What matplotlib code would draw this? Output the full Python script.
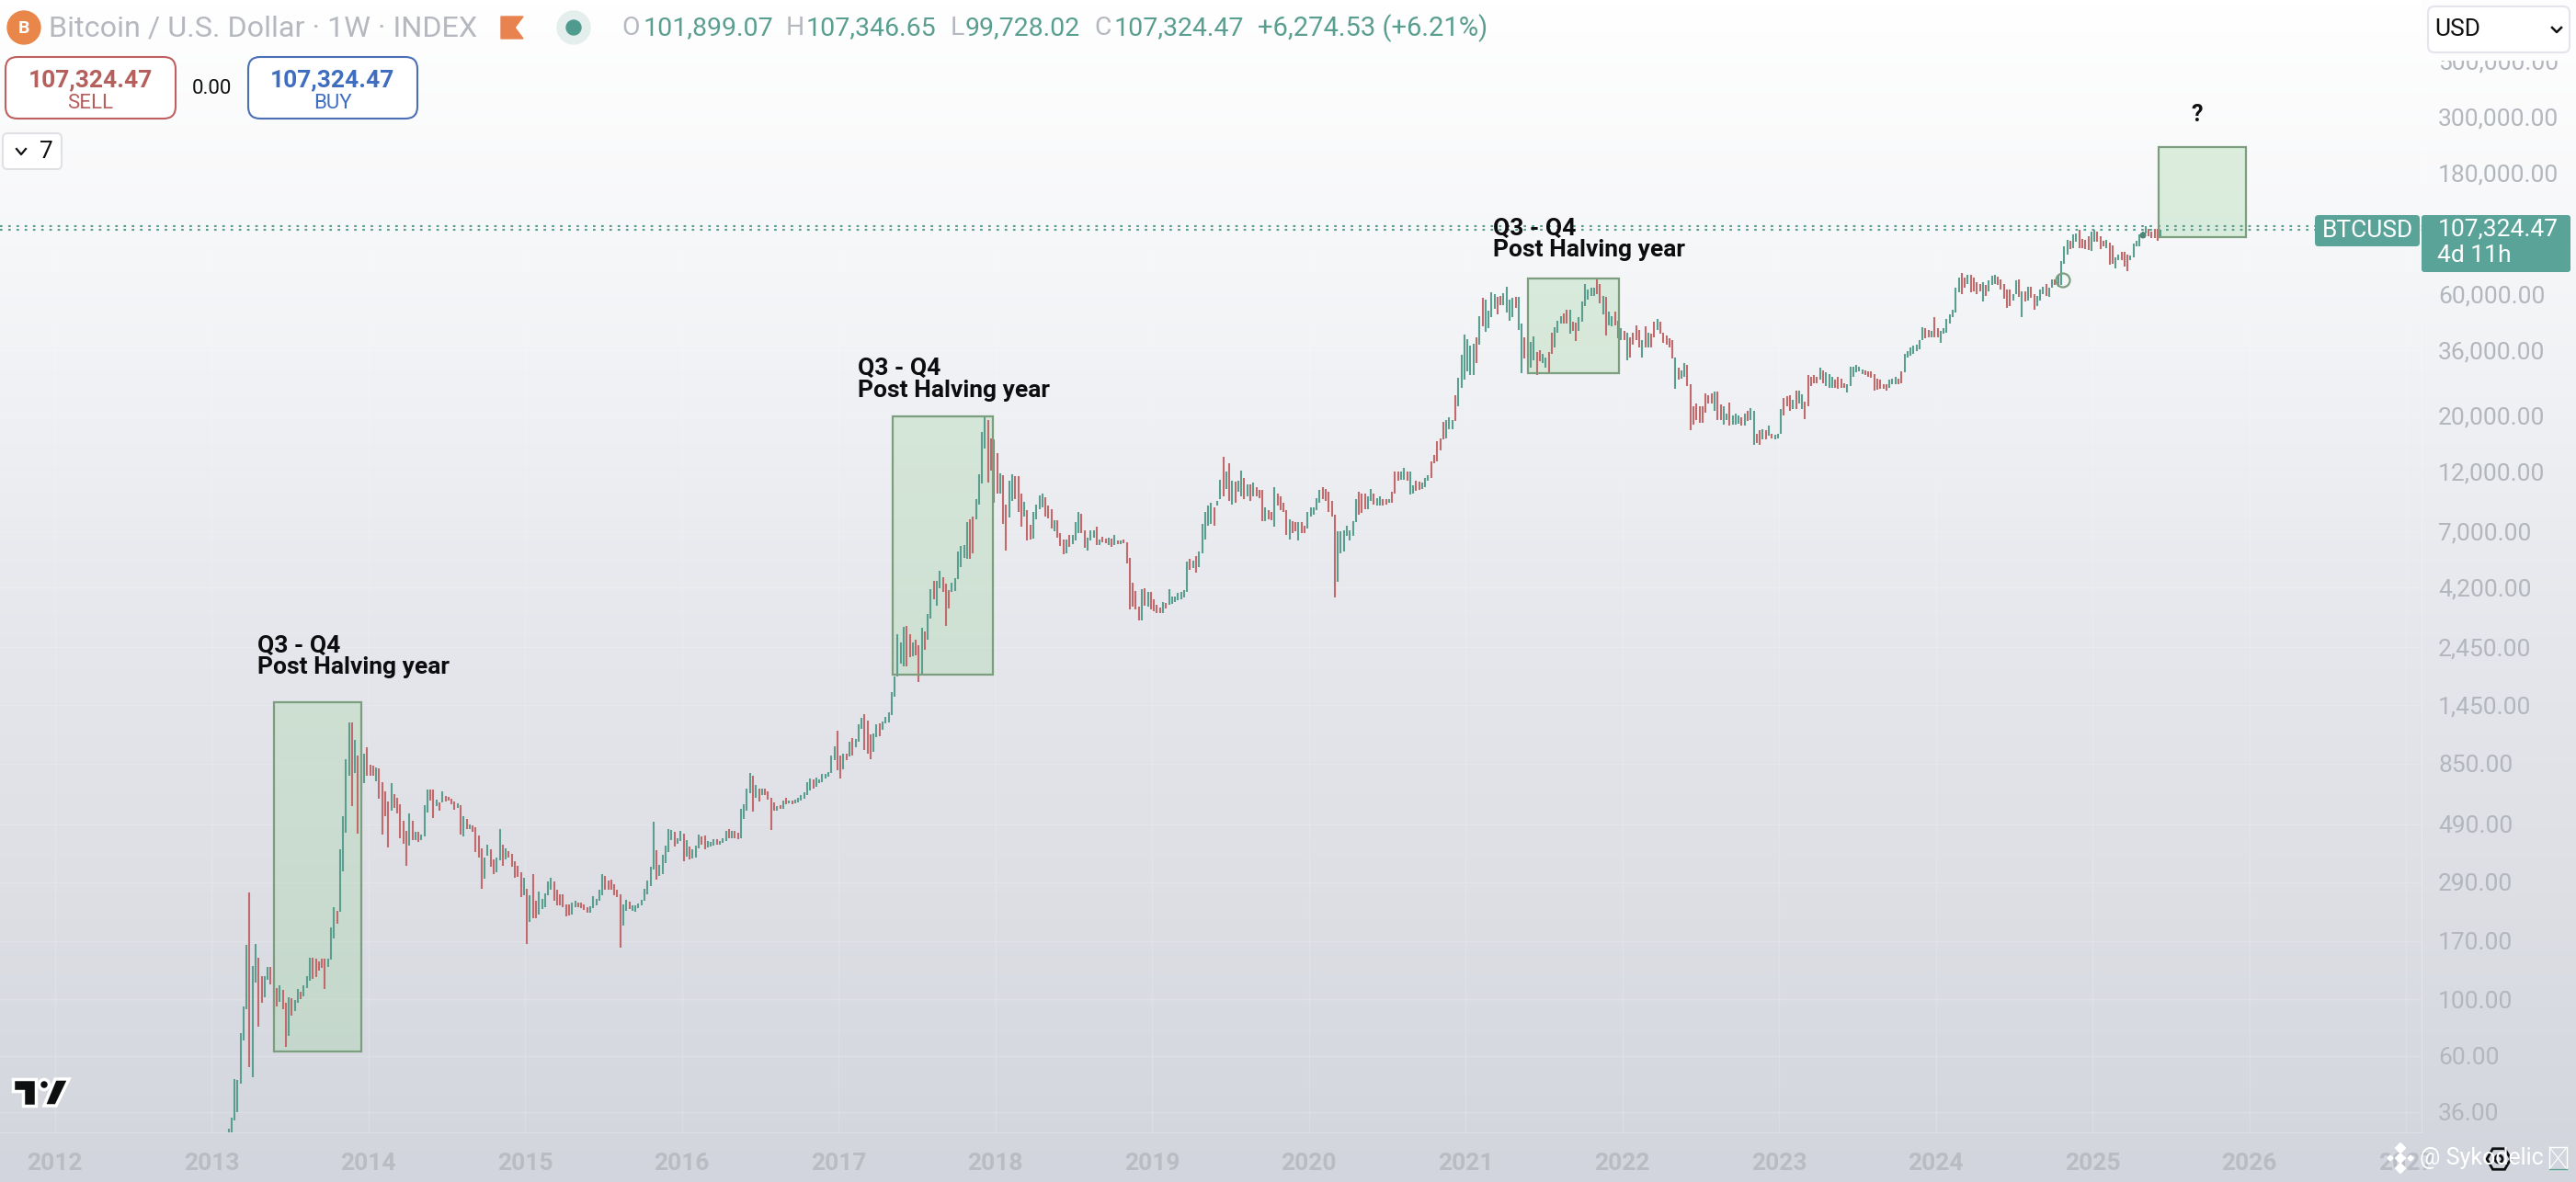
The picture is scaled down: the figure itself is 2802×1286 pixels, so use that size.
#!/usr/bin/env python3
"""
Bitcoin weekly chart with the post halving boxes.
Bars are read off the picture, in log10(USD) because the price axis is log.
"""

import numpy as np
import matplotlib
matplotlib.use("Agg")
from matplotlib import pyplot as plt
from matplotlib.patches import Rectangle, FancyBboxPatch, Circle, Polygon, RegularPolygon
from matplotlib.colors import LinearSegmentedColormap

# Weekly high, low (log10 USD) and direction, G = up, R = down
high_2013 = [
    1.490, 1.536, 1.686, 1.683, 1.869, 1.974, 2.215, 2.422, 2.131, 2.218,
    2.166, 2.092, 2.092, 2.127, 2.127, 2.082, 2.044, 2.054, 2.036, 1.988,
    2.010, 2.006, 1.999, 2.041, 2.031, 2.054, 2.092, 2.166, 2.166, 2.159,
    2.149, 2.159, 2.162, 2.162, 2.285, 2.362, 2.348, 2.590, 2.723, 2.947,
    3.090, 3.090, 3.024, 2.960, 3.020, 2.968, 2.992, 2.925, 2.922, 2.915,
    2.912, 2.856, 2.820, 2.779, 2.852, 2.810, 2.796, 2.768, 2.705, 2.663,
    2.733, 2.705, 2.660, 2.660, 2.649, 2.764, 2.828, 2.828, 2.827, 2.786,
    2.775, 2.820, 2.803, 2.797, 2.792, 2.781, 2.771, 2.765, 2.723, 2.712,
    2.691, 2.684, 2.680, 2.646, 2.596, 2.558, 2.611, 2.593, 2.551, 2.558,
    2.670, 2.611, 2.596, 2.586, 2.572, 2.544, 2.526, 2.502, 2.478, 2.435,
    2.411, 2.495, 2.390, 2.425, 2.397, 2.418, 2.464, 2.478, 2.464, 2.432,
    2.415, 2.415, 2.373, 2.376, 2.380, 2.390, 2.383, 2.380, 2.376, 2.362,
    2.366, 2.408, 2.397, 2.432, 2.495, 2.488, 2.467, 2.471, 2.453, 2.432, 2.415,
]
low_2013 = [
    1.476, 1.476, 1.522, 1.557, 1.669, 1.840, 1.963, 1.732, 1.694, 2.068,
    1.893, 1.988, 2.008, 2.078, 2.058, 1.942, 1.974, 1.991, 1.960, 1.812,
    1.857, 1.936, 1.953, 1.988, 2.003, 2.013, 2.044, 2.075, 2.082, 2.089,
    2.114, 2.124, 2.041, 2.128, 2.156, 2.240, 2.299, 2.344, 2.506, 2.656,
    2.880, 2.761, 2.891, 2.653, 2.796, 2.852, 2.880, 2.880, 2.880, 2.859,
    2.789, 2.649, 2.723, 2.600, 2.744, 2.754, 2.733, 2.635, 2.614, 2.527,
    2.607, 2.628, 2.628, 2.621, 2.628, 2.642, 2.736, 2.782, 2.715, 2.761,
    2.744, 2.775, 2.779, 2.782, 2.768, 2.747, 2.754, 2.649, 2.642, 2.670,
    2.670, 2.660, 2.579, 2.558, 2.436, 2.474, 2.565, 2.523, 2.495, 2.502,
    2.548, 2.526, 2.551, 2.558, 2.523, 2.478, 2.484, 2.404, 2.411, 2.219,
    2.306, 2.320, 2.320, 2.334, 2.355, 2.362, 2.411, 2.432, 2.390, 2.369,
    2.369, 2.362, 2.327, 2.330, 2.334, 2.362, 2.362, 2.359, 2.351, 2.341,
    2.341, 2.359, 2.369, 2.390, 2.411, 2.432, 2.432, 2.432, 2.411, 2.404, 2.204,
]
dirs_2013 = ("GGGGGGGRGG RRGGRRRGRR GRGGRGGGRR RRRGGGRGGG GRGRGGRRRG RRRRGRRRRR "
             "GRGRGGGRRG RGRRRRGRGR GRRRRGGRRG GRGRRRRRGR GRRGGGGGRR RRRRGGRRRR GGGGGRRRRRR")

high_2015 = [
    2.374, 2.391, 2.386, 2.371, 2.371, 2.377, 2.392, 2.437, 2.467, 2.522,
    2.700, 2.588, 2.531, 2.570, 2.606, 2.672, 2.669, 2.660, 2.636, 2.664,
    2.654, 2.628, 2.604, 2.592, 2.606, 2.648, 2.642, 2.645, 2.624, 2.621,
    2.630, 2.633, 2.624, 2.634, 2.664, 2.670, 2.664, 2.664, 2.657, 2.751,
    2.769, 2.832, 2.892, 2.881, 2.845, 2.829, 2.829, 2.829, 2.820, 2.793,
    2.775, 2.763, 2.767, 2.785, 2.793, 2.785, 2.782, 2.787, 2.793, 2.805,
    2.817, 2.857, 2.872, 2.866, 2.875, 2.868, 2.890, 2.890, 2.896, 2.962,
    2.998, 3.059, 2.962, 2.968, 2.968, 3.016, 3.029, 3.026, 3.083, 3.109,
    3.125, 3.099, 3.043, 3.047, 3.083, 3.086, 3.095, 3.113,
]
low_2015 = [
    2.290, 2.350, 2.355, 2.350, 2.347, 2.359, 2.371, 2.389, 2.415, 2.447,
    2.513, 2.473, 2.485, 2.495, 2.536, 2.582, 2.628, 2.604, 2.612, 2.624,
    2.546, 2.564, 2.552, 2.555, 2.560, 2.594, 2.608, 2.590, 2.598, 2.604,
    2.606, 2.608, 2.608, 2.616, 2.624, 2.636, 2.636, 2.636, 2.633, 2.636,
    2.712, 2.745, 2.814, 2.741, 2.793, 2.781, 2.805, 2.805, 2.787, 2.669,
    2.745, 2.745, 2.751, 2.751, 2.769, 2.773, 2.769, 2.773, 2.777, 2.785,
    2.789, 2.805, 2.823, 2.829, 2.838, 2.853, 2.857, 2.872, 2.878, 2.893,
    2.944, 2.902, 2.872, 2.908, 2.944, 2.956, 2.962, 2.992, 3.016, 3.065,
    2.983, 2.968, 2.946, 2.974, 3.035, 3.038, 3.062, 3.089,
]
dirs_2015 = ("GGRGGGGGGG GRGGGGGRGG RGRGGGRRGG GRGGGRGRRG GGGRGRGRRR "
             "RGRGRGRGGG GGGRGGGGGG GRRGRGRGGG RRRGGRGG")

high_2017 = [
    3.131, 3.209, 3.272, 3.439, 3.408, 3.469, 3.472, 3.439, 3.408, 3.417,
    3.396, 3.463, 3.448, 3.517, 3.617, 3.647, 3.647, 3.690, 3.665, 3.638,
    3.613, 3.641, 3.658, 3.764, 3.788, 3.791, 3.879, 3.891, 3.903, 3.970,
    4.069, 4.235, 4.295, 4.281, 4.211, 4.205, 4.151, 4.072, 4.066, 3.951,
    4.042, 4.069, 4.060, 4.060, 3.994, 3.960, 3.927, 3.871, 3.921, 3.951,
    3.984, 3.991, 3.979, 3.945, 3.931, 3.888, 3.888, 3.837, 3.813, 3.813,
    3.831, 3.831, 3.879, 3.921, 3.912, 3.849, 3.819, 3.849, 3.849, 3.863,
    3.813, 3.822, 3.815, 3.819, 3.815, 3.831, 3.807, 3.807, 3.810, 3.801,
    3.740, 3.641, 3.608, 3.549, 3.617, 3.620, 3.607, 3.607, 3.577, 3.553,
    3.545, 3.565, 3.561, 3.617, 3.586, 3.589, 3.601, 3.605, 3.613, 3.726,
    3.734, 3.728, 3.746, 3.764, 3.875, 3.921, 3.945, 3.955, 3.939, 3.963,
    4.048, 4.136, 4.078, 4.114, 4.042, 4.040, 4.042, 4.084, 4.056, 4.030,
    4.030, 4.036, 4.018, 4.008, 4.006, 3.939, 3.927, 3.921, 4.018, 3.994,
    3.982, 3.957, 3.927, 3.891, 3.885, 3.879, 3.879, 3.879, 3.867, 3.921,
    3.939, 3.939, 3.976, 4.008, 4.018, 4.012, 4.000, 3.963, 3.909, 3.843,
    3.843, 3.849, 3.867, 3.849, 3.885, 3.972, 4.000, 3.994, 3.994, 3.982,
    4.012, 3.994, 3.976, 3.982, 3.970, 3.970, 3.970, 4.000, 4.078, 4.078,
    4.081, 4.093, 4.081, 4.078, 4.024, 4.042, 4.040, 4.036, 4.054, 4.066,
    4.120, 4.144, 4.199, 4.211, 4.274, 4.283, 4.295, 4.283, 4.380, 4.450,
    4.539,
]
low_2017 = [
    3.090, 3.119, 3.191, 3.272, 3.324, 3.312, 3.312, 3.348, 3.351, 3.354,
    3.251, 3.275, 3.376, 3.417, 3.499, 3.577, 3.550, 3.620, 3.607, 3.472,
    3.541, 3.607, 3.610, 3.656, 3.702, 3.740, 3.734, 3.734, 3.758, 3.891,
    3.951, 4.032, 4.169, 4.036, 4.084, 3.957, 3.994, 3.994, 3.873, 3.770,
    3.897, 3.963, 3.970, 3.921, 3.861, 3.903, 3.807, 3.813, 3.815, 3.891,
    3.933, 3.939, 3.903, 3.895, 3.855, 3.846, 3.819, 3.786, 3.755, 3.758,
    3.783, 3.795, 3.807, 3.837, 3.837, 3.779, 3.767, 3.807, 3.819, 3.789,
    3.789, 3.801, 3.798, 3.789, 3.783, 3.789, 3.795, 3.795, 3.798, 3.716,
    3.535, 3.547, 3.535, 3.493, 3.493, 3.550, 3.547, 3.535, 3.529, 3.523,
    3.521, 3.521, 3.541, 3.553, 3.557, 3.565, 3.571, 3.577, 3.583, 3.607,
    3.692, 3.698, 3.680, 3.704, 3.758, 3.813, 3.867, 3.873, 3.867, 3.945,
    3.970, 3.982, 4.012, 3.963, 3.951, 3.957, 4.000, 3.982, 3.970, 3.982,
    3.963, 3.982, 3.982, 3.976, 3.885, 3.885, 3.891, 3.887, 3.861, 3.945,
    3.927, 3.921, 3.831, 3.813, 3.837, 3.843, 3.807, 3.837, 3.837, 3.855,
    3.903, 3.909, 3.927, 3.957, 3.970, 3.963, 3.921, 3.903, 3.583, 3.644,
    3.758, 3.764, 3.825, 3.807, 3.825, 3.879, 3.909, 3.915, 3.933, 3.933,
    3.963, 3.951, 3.945, 3.945, 3.945, 3.951, 3.957, 3.957, 3.994, 4.042,
    4.048, 4.048, 4.042, 3.988, 3.994, 4.003, 4.006, 4.012, 4.018, 4.042,
    4.054, 4.114, 4.120, 4.163, 4.205, 4.211, 4.247, 4.245, 4.277, 4.338,
    4.410,
]
dirs_2017 = ("GGGGGGRRGR RGRGGRGGRR RGGGGGGRRG GGGRRRRGRR GGRRRGRRGG "
             "GGRRRGRRRG RGGGRRGGGR GRRGRGRGRR RRRRGRGRRR RGRGGGGGGG "
             "RGRGGGGGRG GRGRGRGGRG RGRRRGRRGR RRRGRRGRRG GGGGRRRRRG "
             "GGGGGGRRRG GRGGRRGRRR GGRGGRRGGG RRRRRGGGRG GGGGGRGRGG G")

high_2021 = [
    4.619, 4.600, 4.575, 4.583, 4.607, 4.690, 4.764, 4.756, 4.715, 4.784,
    4.778, 4.766, 4.772, 4.781, 4.806, 4.756, 4.764, 4.769, 4.769, 4.664,
    4.607, 4.591, 4.591, 4.612, 4.549, 4.559, 4.543, 4.530, 4.549, 4.625,
    4.648, 4.675, 4.691, 4.703, 4.718, 4.718, 4.669, 4.667, 4.687, 4.748,
    4.820, 4.796, 4.802, 4.802, 4.838, 4.817, 4.772, 4.766, 4.711, 4.693,
    4.709, 4.675, 4.645, 4.633, 4.627, 4.609, 4.627, 4.657, 4.639, 4.597,
    4.651, 4.627, 4.621, 4.669, 4.679, 4.669, 4.627, 4.615, 4.603, 4.597,
    4.530, 4.488, 4.479, 4.506, 4.500, 4.422, 4.337, 4.349, 4.337, 4.337,
    4.386, 4.380, 4.386, 4.395, 4.395, 4.343, 4.337, 4.307, 4.353, 4.301,
    4.307, 4.301, 4.295, 4.307, 4.319, 4.329, 4.319, 4.229, 4.241, 4.247,
    4.241, 4.259, 4.229, 4.225, 4.229, 4.325, 4.368, 4.377, 4.380, 4.361,
    4.398, 4.398, 4.382, 4.355, 4.458, 4.454, 4.458, 4.452, 4.488, 4.479,
    4.470, 4.464, 4.452, 4.442, 4.452, 4.446, 4.428, 4.422, 4.494, 4.491,
    4.498, 4.494, 4.482, 4.479, 4.476, 4.476, 4.464, 4.446, 4.442, 4.422,
    4.422, 4.440, 4.446, 4.452, 4.446, 4.476, 4.543, 4.555, 4.570, 4.575,
    4.579, 4.597, 4.648, 4.643, 4.639, 4.635, 4.687, 4.645, 4.633, 4.645,
    4.681, 4.699, 4.718, 4.802, 4.844, 4.862, 4.844, 4.853, 4.856, 4.844,
    4.824, 4.820, 4.824, 4.814, 4.832, 4.850, 4.853, 4.848, 4.838, 4.820,
    4.798, 4.796, 4.778, 4.832, 4.838, 4.790, 4.790, 4.808, 4.808, 4.778,
    4.772, 4.796, 4.808, 4.817, 4.802, 4.838,
]
low_2021 = [
    4.440, 4.476, 4.458, 4.458, 4.507, 4.579, 4.651, 4.631, 4.645, 4.688,
    4.720, 4.700, 4.736, 4.736, 4.706, 4.672, 4.688, 4.724, 4.639, 4.467,
    4.525, 4.507, 4.489, 4.519, 4.458, 4.513, 4.507, 4.488, 4.470, 4.543,
    4.567, 4.627, 4.663, 4.663, 4.663, 4.623, 4.633, 4.594, 4.633, 4.669,
    4.730, 4.756, 4.772, 4.772, 4.778, 4.742, 4.699, 4.615, 4.657, 4.651,
    4.657, 4.603, 4.597, 4.597, 4.518, 4.530, 4.579, 4.597, 4.567, 4.530,
    4.567, 4.567, 4.567, 4.609, 4.639, 4.621, 4.585, 4.579, 4.567, 4.524,
    4.404, 4.440, 4.446, 4.452, 4.416, 4.244, 4.265, 4.283, 4.271, 4.271,
    4.313, 4.349, 4.349, 4.319, 4.283, 4.283, 4.265, 4.281, 4.259, 4.265,
    4.265, 4.269, 4.259, 4.259, 4.277, 4.283, 4.186, 4.193, 4.186, 4.208,
    4.205, 4.220, 4.211, 4.208, 4.211, 4.229, 4.301, 4.337, 4.319, 4.325,
    4.325, 4.349, 4.325, 4.285, 4.337, 4.416, 4.428, 4.428, 4.440, 4.428,
    4.416, 4.410, 4.410, 4.410, 4.404, 4.410, 4.410, 4.392, 4.416, 4.452,
    4.470, 4.476, 4.464, 4.458, 4.452, 4.450, 4.398, 4.401, 4.404, 4.404,
    4.398, 4.410, 4.422, 4.422, 4.422, 4.428, 4.470, 4.530, 4.536, 4.543,
    4.555, 4.561, 4.597, 4.603, 4.609, 4.607, 4.609, 4.609, 4.585, 4.621,
    4.627, 4.663, 4.687, 4.705, 4.784, 4.780, 4.802, 4.820, 4.784, 4.790,
    4.778, 4.790, 4.751, 4.772, 4.790, 4.814, 4.820, 4.814, 4.796, 4.760,
    4.724, 4.730, 4.754, 4.778, 4.766, 4.687, 4.748, 4.754, 4.763, 4.718,
    4.730, 4.754, 4.778, 4.772, 4.766, 4.802,
]
dirs_2021 = ("GRRGGGGRGG RRGGRRGGRR GGGRRGRRGG GGGGRRGRGG RRGRGRRRRG "
             "RGRRGRRRRR GRGGRRRRRR RRRGRRGGRG GGRGRGGRRG RGRGGGRRRG "
             "RGGRRRRRGR GGGRRRRGGG GGGRRRRRRR RGGGRRGGGG GGGRRGRRGG "
             "GGGGGRRGRR RRGRGGGRRR RRGGRGRGRR GGGRGG")

high_2024 = [
    4.838, 4.853, 4.907, 4.965, 4.993, 4.989, 5.013, 5.016, 5.031, 4.995,
    4.993, 5.005, 5.025, 5.031, 5.025, 5.007, 4.989, 4.993, 4.980, 4.971,
    4.925, 4.935, 4.945, 4.945, 4.935, 4.932, 4.977, 4.989, 5.013, 5.023,
    5.046, 5.037, 5.023, 5.034, 5.034, 5.031,
]
low_2024 = [
    4.814, 4.808, 4.814, 4.899, 4.935, 4.957, 4.959, 4.983, 4.959, 4.961,
    4.957, 4.953, 4.949, 4.983, 4.983, 4.957, 4.965, 4.959, 4.893, 4.899,
    4.881, 4.911, 4.911, 4.887, 4.868, 4.911, 4.923, 4.965, 4.965, 5.001,
    5.019, 5.007, 5.001, 5.001, 4.989, 4.998,
]
dirs_2024 = "RGGGGRGGRR RRGGRRRGRR GGRRRGGGGG GRRRRG"

# First weekly bar, as a fraction of a year
first_week = 2013.1085

# Axis ticks
year_ticks = list(range(2012, 2028))
price_ticks = [36, 60, 100, 170, 290, 490, 850, 1450, 2450, 4200, 7000, 12000,
               20000, 36000, 60000, 180000, 300000, 500000]
last_price = 107324.47
upper_line = 111200

# Boxes: start year, end year, low price, high price
box_starts = [2013.397, 2017.348, 2021.396, 2025.420]
box_ends = [2013.958, 2017.988, 2021.977, 2025.981]
box_lows = [62.4, 1901, 29300, 100460]
box_highs = [1483, 19860, 69340, 228500]
note_years = [2013.295, 2017.123, 2021.175]
note_prices = [2239, 27660, 98700]

GREEN = "#5a9e90"
TAG = "#5aa398"
RED = "#c1696b"
GREY = "#b3b6bd"
BOX_EDGE = "#7b9e7f"
FONT = "Roboto"

plt.rcParams["font.family"] = [FONT, "DejaVu Sans"]

highs = np.array(high_2013 + high_2015 + high_2017 + high_2021 + high_2024)
lows = np.array(low_2013 + low_2015 + low_2017 + low_2021 + low_2024)
dirs = (dirs_2013 + dirs_2015 + dirs_2017 + dirs_2021 + dirs_2024).replace(" ", "")

weeks = first_week + np.arange(len(highs)) / 52.0
colors = [GREEN if d == "G" else RED for d in dirs]

W, H = 2802, 1286
fig = plt.figure(figsize=(W / 100, H / 100), dpi=100)

# Page gradient behind everything
bg = fig.add_axes([0, 0, 1, 1], zorder=0)
bg.axis("off")
cmap = LinearSegmentedColormap.from_list("page", [
    (0.0, "#ffffff"), (0.23, "#f5f6f8"), (0.54, "#e6e7ec"), (0.78, "#dcdee4"), (1.0, "#d2d5dd")])
bg.imshow(np.linspace(0, 1, 256).reshape(-1, 1), cmap=cmap, aspect="auto", extent=[0, 1, 0, 1])

# Price chart, 170.5 px a year and 276.2 px a decade
PLOT_W, PLOT_H = 2634, 1232
ax = fig.add_axes([0, (H - PLOT_H) / H, PLOT_W / W, PLOT_H / H], zorder=1)
ax.patch.set_visible(False)
ax.set_yscale("log")
ax.set_xlim(2011.651, 2011.651 + PLOT_W / 170.5)
ax.set_ylim(10 ** (5.937 - PLOT_H / 276.2), 10 ** 5.937)

ax.vlines(weeks, 10 ** lows, 10 ** highs, colors=colors, lw=1.5, zorder=3, capstyle="butt")

for x0, x1, y0, y1 in zip(box_starts, box_ends, box_lows, box_highs):
    ax.add_patch(Rectangle((x0, y0), x1 - x0, y1 - y0, facecolor="#a5d6a7", alpha=0.35, edgecolor="none", zorder=2))
    ax.add_patch(Rectangle((x0, y0), x1 - x0, y1 - y0, fill=False, edgecolor=BOX_EDGE, lw=1.6, zorder=4))

for x, y in zip(note_years, note_prices):
    ax.text(x, y, "Q3 - Q4\nPost Halving year", fontsize=19, fontweight="bold", color="#0d0d0f",
            va="center", ha="left", linespacing=0.96, zorder=5)
ax.text(2025.669, 305000, "?", fontsize=18, fontweight="bold", color="#111111", ha="center", va="center", zorder=5)

for price in [upper_line, last_price]:
    ax.axhline(price, color=GREEN, lw=1.5, dashes=(1.3, 3.0), zorder=2)

ax.yaxis.tick_right()
ax.set_yticks(price_ticks)
ax.set_yticklabels([f"{p:,.2f}" for p in price_ticks])
ax.minorticks_off()
ax.set_xticks(year_ticks)
ax.set_xticklabels([str(y) for y in year_ticks])
ax.tick_params(axis="y", length=0, pad=13, labelsize=19, labelcolor=GREY)
ax.tick_params(axis="x", length=0, pad=16, labelsize=19, labelcolor="#b9bcc3")
for lab in ax.get_xticklabels():
    lab.set_fontweight("bold")
ax.grid(True, color="#ffffff", alpha=0.16, lw=1)
for side in ["top", "left"]:
    ax.spines[side].set_visible(False)
for side in ["right", "bottom"]:
    ax.spines[side].set_color("#ffffff")
    ax.spines[side].set_alpha(0.25)

# Everything from here is the page around the chart, placed in pixels
ui = fig.add_axes([0, 0, 1, 1], zorder=2)
ui.set_xlim(0, W)
ui.set_ylim(H, 0)
ui.axis("off")

ui.add_patch(Circle((26, 30), 18, color="#e9874a"))
ui.text(26, 31, "B", color="white", fontsize=14, fontweight="bold", ha="center", va="center")
ui.text(53, 31, "Bitcoin / U.S. Dollar · 1W · INDEX", color="#b5b8bf", fontsize=23.3, va="center")
ui.add_patch(Polygon([(545, 18), (569, 18), (560, 30), (569, 42), (545, 42)], color="#e8824f"))
ui.add_patch(Circle((624, 30), 18, color="#e4eeed"))
ui.add_patch(Circle((624, 30), 8, color="#4f9c8f"))

header = [(676, "O", 700, "101,899.07"), (855, "H", 877, "107,346.65"),
          (1034, "L", 1050, "99,728.02"), (1190, "C", 1212, "107,324.47")]
for x0, key, x1, val in header:
    ui.text(x0, 31, key, color="#b5b8bf", fontsize=20.5, va="center")
    ui.text(x1, 31, val, color=GREEN, fontsize=20.5, va="center")
ui.text(1368, 31, "+6,274.53 (+6.21%)", color=GREEN, fontsize=21, va="center")

# Sell / buy buttons
for x0, x1, edge, txt, name in [(6, 191, "#bf5f5f", "#b5605c", "SELL"), (270, 454, "#4a6fb5", "#3f6ec0", "BUY")]:
    ui.add_patch(FancyBboxPatch((x0, 62), x1 - x0, 67, boxstyle="round,pad=0,rounding_size=13",
                                facecolor="white", edgecolor=edge, lw=1.5))
    ui.text((x0 + x1) / 2, 87, "107,324.47", color=txt, fontsize=19, fontweight="bold", ha="center", va="center")
    ui.text((x0 + x1) / 2, 113, name, color=txt, fontsize=16, ha="center", va="center")
ui.text(230, 96, "0.00", color="#111111", fontsize=16, ha="center", va="center")

ui.add_patch(FancyBboxPatch((3, 145), 64, 39, boxstyle="round,pad=0,rounding_size=5",
                            facecolor="white", edgecolor="#e0e1e5", lw=1.5))
ui.plot([18, 23, 28], [162, 168, 162], color="#111111", lw=1.6)
ui.text(50, 165, "7", color="#111111", fontsize=19, ha="center", va="center")

# Fade that cuts the top price label, then the currency box
ui.add_patch(Rectangle((2634, 0), W - 2634, 66, facecolor="#fdfdfe", edgecolor="none"))
ui.add_patch(FancyBboxPatch((2641, 7), 154, 50, boxstyle="round,pad=0,rounding_size=7",
                            facecolor="white", edgecolor="#e3e5ea", lw=1.5))
ui.text(2648, 32, "USD", color="#111111", fontsize=19, va="center")
ui.plot([2776, 2781, 2786], [30, 35, 30], color="#111111", lw=1.8)

# Last price tags
ui.add_patch(FancyBboxPatch((2518, 234), 114, 34, boxstyle="round,pad=0,rounding_size=4", facecolor=TAG, edgecolor="none"))
ui.text(2575, 251, "BTCUSD", color="white", fontsize=19, ha="center", va="center")
ui.add_patch(FancyBboxPatch((2634, 234), 162, 62, boxstyle="round,pad=0,rounding_size=3", facecolor=TAG, edgecolor="none"))
ui.text(2652, 250, "107,324.47", color="white", fontsize=19, va="center")
ui.text(2651, 278, "4d 11h", color="white", fontsize=19, va="center")

# Small chart marks
ui.add_patch(Circle((2244, 305), 7.5, fill=False, edgecolor=BOX_EDGE, lw=1.6, zorder=5))
ui.add_patch(Circle((2331, 256), 2.8, color="#4d8577", zorder=5))

# TradingView logo
logo = dict(facecolor="#0e0f11", edgecolor="white", lw=2.5, joinstyle="miter")
ui.add_patch(Polygon([(14, 1174), (39, 1174), (39, 1203), (25, 1203), (25, 1187), (14, 1187)], **logo))
ui.add_patch(Circle((48, 1180), 5.5, **logo))
ui.add_patch(Polygon([(60, 1174), (75, 1174), (61, 1203), (48, 1203)], **logo))

# Watermark
ui.add_patch(RegularPolygon((2718, 1261), 6, radius=13, orientation=np.pi / 2, fill=False, edgecolor="#0e0f11", lw=2))
ui.add_patch(Circle((2718, 1261), 4, fill=False, edgecolor="#0e0f11", lw=2))
for dx, dy, r in [(0, -11, 5.5), (-11, 0, 3), (11, 0, 3), (0, 0, 5.5), (0, 11, 5.5)]:
    ui.add_patch(RegularPolygon((2611 + dx, 1260 + dy), 4, radius=r, color="white"))
ui.text(2632, 1260, "@ Sykodelic", color="white", fontsize=18, va="center")
ui.add_patch(Rectangle((2773, 1248), 19, 24, fill=False, edgecolor="white", lw=1))
ui.plot([2773, 2792], [1248, 1272], color="white", lw=0.8)
ui.plot([2773, 2792], [1272, 1248], color="white", lw=0.8)
ui.plot([2773, 2792], [1272, 1272], color="#5a9e90", lw=1)

fig.savefig("out.png", dpi=100)
plt.close()
